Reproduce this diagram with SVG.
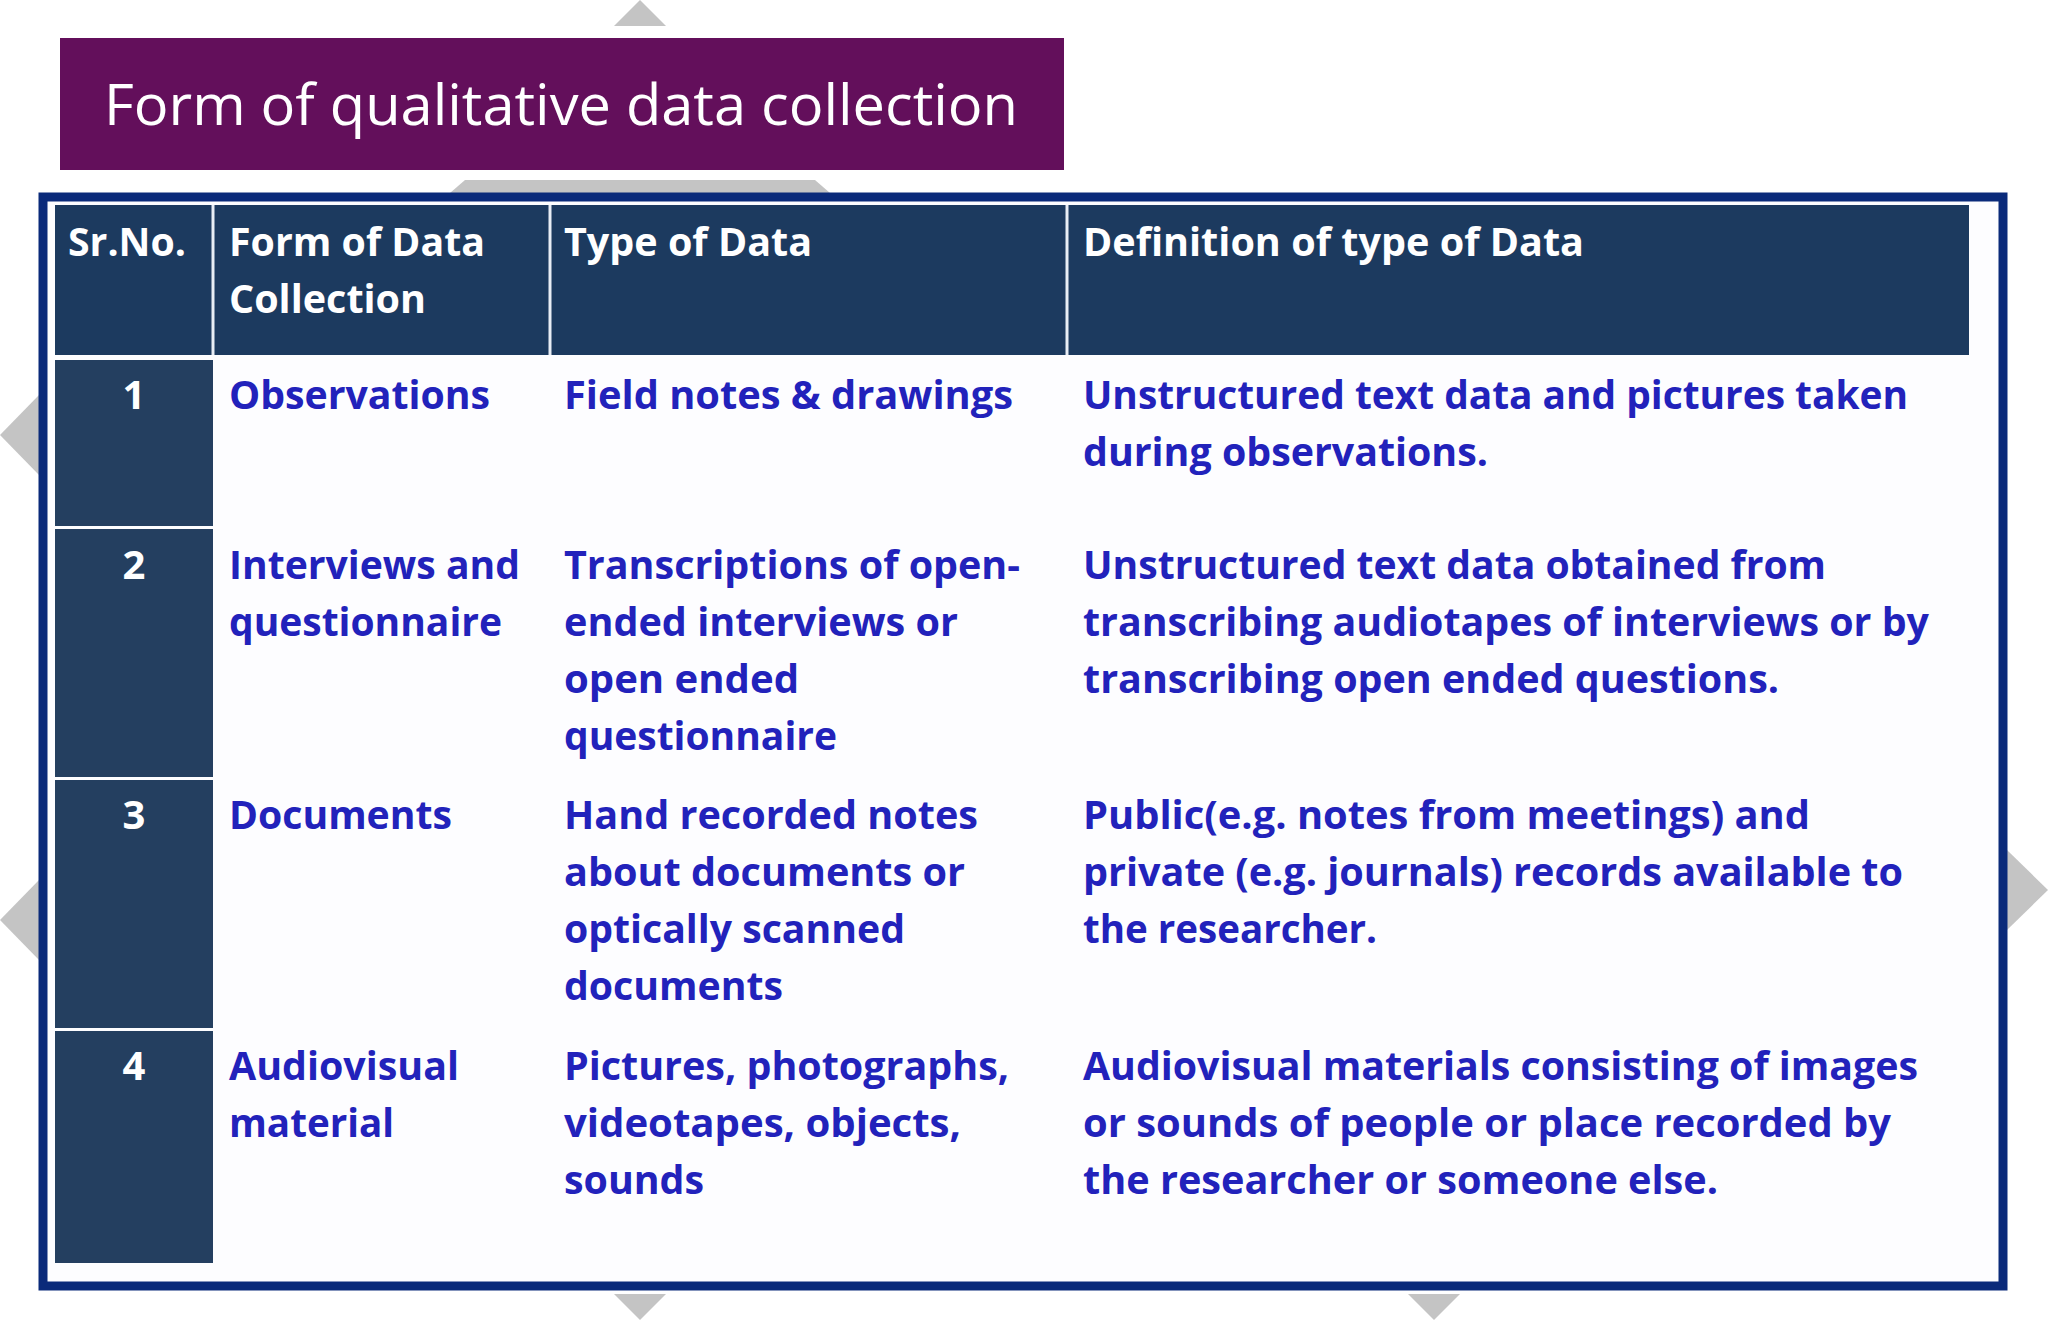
<svg xmlns="http://www.w3.org/2000/svg" width="2048" height="1321" viewBox="0 0 2048 1321">
<style>
.h{font-family:"Open Sans","Liberation Sans",sans-serif;font-weight:bold;font-size:40px;fill:#ffffff}
.t{font-family:"Open Sans","Liberation Sans",sans-serif;font-weight:bold;font-size:40px;fill:#2222bb}
.n{font-family:"Open Sans","Liberation Sans",sans-serif;font-weight:bold;font-size:40px;fill:#ffffff;text-anchor:middle}
.g{fill:#c4c4c4}
.num{fill:#243f60}
</style>
<rect width="2048" height="1321" fill="#ffffff"/>
<g id="decor">
<polygon class="g" points="640,0 614,26 666,26"/>
<polygon class="g" points="465,180 815,180 830,193 450,193"/>
<polygon class="g" points="39,395 0,435 39,475"/>
<polygon class="g" points="2007,850 2048,890 2007,930"/>
<polygon class="g" points="39,880 0,920 39,960"/>
<polygon class="g" points="614,1294 640,1320 666,1294"/>
<polygon class="g" points="1408,1294 1434,1320 1460,1294"/>
</g>
<g id="title">
<rect x="60" y="38" width="1004" height="132" fill="#630f5b"/>
<text x="104" y="125" font-family="Open Sans,Liberation Sans,sans-serif" font-size="57" fill="#ffffff" textLength="914" lengthAdjust="spacingAndGlyphs">Form of qualitative data collection</text>
</g>
<g id="table">
<rect x="43" y="197" width="1960" height="1089" fill="#fdfdff" stroke="#0a2a7a" stroke-width="9"/>
<rect x="55" y="205" width="1914" height="150" fill="#1c3a5f"/>
<g stroke="#e8edf5" stroke-width="3">
<line x1="213" y1="205" x2="213" y2="355"/>
<line x1="550" y1="205" x2="550" y2="355"/>
<line x1="1067" y1="205" x2="1067" y2="355"/>
</g>
<rect class="num" x="55" y="360" width="158" height="166"/>
<rect class="num" x="55" y="529" width="158" height="248"/>
<rect class="num" x="55" y="780" width="158" height="248"/>
<rect class="num" x="55" y="1031" width="158" height="232"/>
</g>
<g id="header">
<text class="h" x="68" y="256" textLength="118" lengthAdjust="spacingAndGlyphs">Sr.No.</text>
<text class="h" x="229" y="256" textLength="256" lengthAdjust="spacingAndGlyphs">Form of Data</text>
<text class="h" x="229" y="313" textLength="197" lengthAdjust="spacingAndGlyphs">Collection</text>
<text class="h" x="564" y="256" textLength="248" lengthAdjust="spacingAndGlyphs">Type of Data</text>
<text class="h" x="1083" y="256" textLength="501" lengthAdjust="spacingAndGlyphs">Definition of type of Data</text>
</g>
<g id="row1">
<text class="n" x="134" y="409">1</text>
<text class="t" x="229" y="409" textLength="261" lengthAdjust="spacingAndGlyphs">Observations</text>
<text class="t" x="564" y="409" textLength="449" lengthAdjust="spacingAndGlyphs">Field notes &amp; drawings</text>
<text class="t" x="1083" y="409" textLength="825" lengthAdjust="spacingAndGlyphs">Unstructured text data and pictures taken</text>
<text class="t" x="1083" y="466" textLength="405" lengthAdjust="spacingAndGlyphs">during observations.</text>
</g>
<g id="row2">
<text class="n" x="134" y="579">2</text>
<text class="t" x="229" y="579" textLength="291" lengthAdjust="spacingAndGlyphs">Interviews and</text>
<text class="t" x="229" y="636" textLength="273" lengthAdjust="spacingAndGlyphs">questionnaire</text>
<text class="t" x="564" y="579" textLength="456" lengthAdjust="spacingAndGlyphs">Transcriptions of open-</text>
<text class="t" x="564" y="636" textLength="394" lengthAdjust="spacingAndGlyphs">ended interviews or</text>
<text class="t" x="564" y="693" textLength="235" lengthAdjust="spacingAndGlyphs">open ended</text>
<text class="t" x="564" y="750" textLength="273" lengthAdjust="spacingAndGlyphs">questionnaire</text>
<text class="t" x="1083" y="579" textLength="743" lengthAdjust="spacingAndGlyphs">Unstructured text data obtained from</text>
<text class="t" x="1083" y="636" textLength="846" lengthAdjust="spacingAndGlyphs">transcribing audiotapes of interviews or by</text>
<text class="t" x="1083" y="693" textLength="696" lengthAdjust="spacingAndGlyphs">transcribing open ended questions.</text>
</g>
<g id="row3">
<text class="n" x="134" y="829">3</text>
<text class="t" x="229" y="829" textLength="223" lengthAdjust="spacingAndGlyphs">Documents</text>
<text class="t" x="564" y="829" textLength="414" lengthAdjust="spacingAndGlyphs">Hand recorded notes</text>
<text class="t" x="564" y="886" textLength="401" lengthAdjust="spacingAndGlyphs">about documents or</text>
<text class="t" x="564" y="943" textLength="341" lengthAdjust="spacingAndGlyphs">optically scanned</text>
<text class="t" x="564" y="1000" textLength="219" lengthAdjust="spacingAndGlyphs">documents</text>
<text class="t" x="1083" y="829" textLength="727" lengthAdjust="spacingAndGlyphs">Public(e.g. notes from meetings) and</text>
<text class="t" x="1083" y="886" textLength="820" lengthAdjust="spacingAndGlyphs">private (e.g. journals) records available to</text>
<text class="t" x="1083" y="943" textLength="294" lengthAdjust="spacingAndGlyphs">the researcher.</text>
</g>
<g id="row4">
<text class="n" x="134" y="1080">4</text>
<text class="t" x="229" y="1080" textLength="230" lengthAdjust="spacingAndGlyphs">Audiovisual</text>
<text class="t" x="229" y="1137" textLength="165" lengthAdjust="spacingAndGlyphs">material</text>
<text class="t" x="564" y="1080" textLength="445" lengthAdjust="spacingAndGlyphs">Pictures, photographs,</text>
<text class="t" x="564" y="1137" textLength="397" lengthAdjust="spacingAndGlyphs">videotapes, objects,</text>
<text class="t" x="564" y="1194" textLength="140" lengthAdjust="spacingAndGlyphs">sounds</text>
<text class="t" x="1083" y="1080" textLength="835" lengthAdjust="spacingAndGlyphs">Audiovisual materials consisting of images</text>
<text class="t" x="1083" y="1137" textLength="808" lengthAdjust="spacingAndGlyphs">or sounds of people or place recorded by</text>
<text class="t" x="1083" y="1194" textLength="635" lengthAdjust="spacingAndGlyphs">the researcher or someone else.</text>
</g>
<g id="connectors"></g>
</svg>
